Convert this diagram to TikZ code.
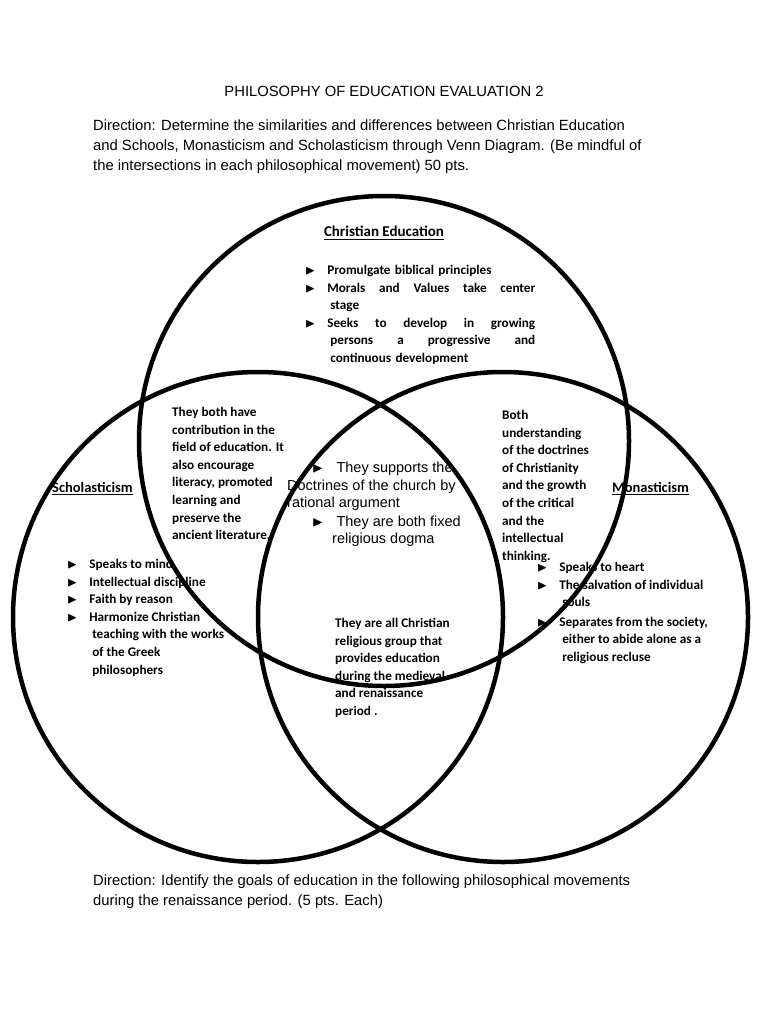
\documentclass[tikz,border=0pt]{standalone}
\usepackage{amssymb}
\usepackage{fontspec}
\setmainfont{Liberation Sans}
\newfontfamily\calfont{Carlito}
\begin{document}
\begin{tikzpicture}[x=1pt,y=-1pt,
 circ/.style={line width=4.5pt},
 cb/.style={font=\calfont\bfseries\fontsize{13.2}{17.6}\selectfont,align=left,anchor=north west,inner sep=0},
 ar/.style={font=\fontsize{14.5}{17.5}\selectfont,align=left,anchor=north west,inner sep=0},
 hd/.style={font=\fontsize{14.8}{20}\selectfont,align=left,anchor=north west,inner sep=0}]
\newcommand\bl{$\blacktriangleright$\hspace{0.9em}}
\path[fill=white] (0,0) rectangle (768,1024);
\node[hd,anchor=north] (t) at (384,86) {PHILOSOPHY OF EDUCATION EVALUATION 2};
\node[hd] (d1) at (93,120) {Direction: Determine the similarities and differences between Christian Education\\and Schools, Monasticism and Scholasticism through Venn Diagram. (Be mindful of\\the intersections in each philosophical movement) 50 pts.};
\draw[circ] (384,441) circle (245);
\draw[circ] (258,617) circle (245);
\draw[circ] (503,617) circle (245);
\node[cb,anchor=north,font=\calfont\bfseries\fontsize{15}{17}\selectfont] (ce) at (384,226) {\underline{Christian Education}};
\node[cb,text width=230pt] (cel) at (305,265) {\bl Promulgate biblical principles\\
\bl Morals\hfill and\hfill Values\hfill take\hfill center\\\hspace*{1.9em}stage\\
\bl Seeks\hfill to\hfill develop\hfill in\hfill growing\\\hspace*{1.9em}persons\hfill a\hfill progressive\hfill and\\\hspace*{1.9em}continuous development};
\node[cb] (cs) at (172,407) {They both have\\contribution in the\\field of education. It\\also encourage\\literacy, promoted\\learning and\\preserve the\\ancient literature.};
\node[cb] (cm) at (502,410) {Both\\understanding\\of the doctrines\\of Christianity\\and the growth\\of the critical\\and the\\intellectual\\thinking.};
\node[ar] (cen) at (287,462) {\hspace*{25pt}\bl They supports the\\Doctrines of the church by\\rational argument\\[1pt]\hspace*{25pt}\bl They are both fixed\\\hspace*{45pt}religious dogma};
\node[cb,font=\calfont\bfseries\fontsize{14.5}{17}\selectfont] (sc) at (52,482) {\underline{Scholasticism}};
\node[cb,font=\calfont\bfseries\fontsize{14.5}{17}\selectfont] (mo) at (612,482) {\underline{Monasticism}};
\node[cb] (scl) at (67,559) {\bl Speaks to mind\\\bl Intellectual discipline\\\bl Faith by reason\\\bl Harmonize Christian\\\hspace*{1.9em}teaching with the works\\\hspace*{1.9em}of the Greek\\\hspace*{1.9em}philosophers};
\node[cb] (mol) at (537,562) {\bl Speaks to heart\\\bl The salvation of individual\\\hspace*{1.9em}souls\\[2pt]\bl Separates from the society,\\\hspace*{1.9em}either to abide alone as a\\\hspace*{1.9em}religious recluse};
\node[cb] (all) at (335,618) {They are all Christian\\religious group that\\provides education\\during the medieval\\and renaissance\\period .};
\node[hd] (d2) at (93,875) {Direction: Identify the goals of education in the following philosophical movements\\during the renaissance period. (5 pts. Each)};
\end{tikzpicture}
\end{document}
